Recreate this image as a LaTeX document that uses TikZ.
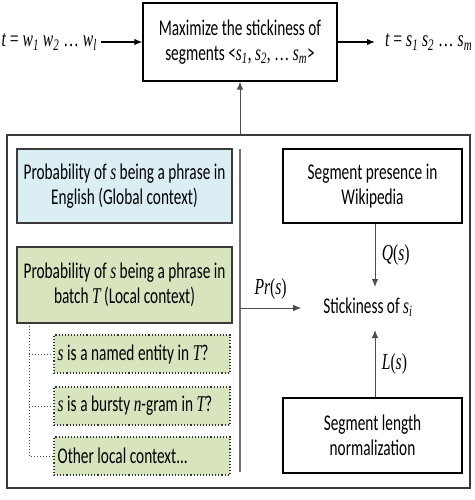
\documentclass[tikz,border=0pt]{standalone}
\usepackage{fontspec}
\setmainfont[FakeStretch=0.68]{Carlito}
\newfontfamily\mserif[FakeStretch=0.68]{Liberation Serif}
\usetikzlibrary{arrows.meta}
\newcommand{\vv}[1]{{\mserif\itshape #1}}
\newcommand{\sbs}[1]{\textsubscript{\mserif\itshape #1}}
\newcommand{\tightsp}{\spaceskip=3.6pt plus 1pt minus 1pt\relax}
\definecolor{bluefill}{HTML}{DBEEF4}
\definecolor{greenfill}{HTML}{D7E4BD}
\definecolor{frame}{HTML}{3A3A3A}
\tikzset{
  txt/.style={font=\fontsize{22.5}{25}\selectfont, align=center},
  box/.style={draw=black, line width=1.2pt, txt, inner sep=0pt},
  ctxbox/.style={draw=frame, line width=1.4pt, txt, inner sep=0pt},
  dotbox/.style={draw=black!80, dotted, line width=1.1pt, fill=greenfill, inner sep=0pt, minimum width=176pt, minimum height=38pt},
  dottxt/.style={font=\fontsize{22.5}{25}\selectfont, inner sep=0pt, anchor=west},
  arr/.style={-{Latex[length=8pt,width=6.5pt]}, line width=1.4pt},
  garr/.style={-{Latex[length=8pt,width=6.5pt]}, line width=1pt, draw=black!70},
  dline/.style={dotted, line width=1pt, draw=black!70},
  mlab/.style={font=\fontsize{23}{25}\selectfont\mserif\itshape},
}
\begin{document}
\begin{tikzpicture}[x=1pt,y=-1pt]
\useasboundingbox (0,0) rectangle (474,500);
% top row
\node[box, minimum width=194pt, minimum height=78pt] (top) at (240,42)
  {Maximize the stickiness of\\segments <\vv{s}\sbs{1}{\mserif,} \vv{s}\sbs{2}{\mserif,} {\mserif\ldots} \vv{s}\sbs{m}>};
\node[anchor=east, mlab, inner sep=0pt] (tin) at (97,42)
  {t \upshape= \itshape w\textsubscript{1} w\textsubscript{2} \upshape\ldots\ \itshape w\textsubscript{l}};
\node[anchor=west, mlab, inner sep=0pt] (tout) at (385,42)
  {t \upshape= \itshape s\textsubscript{1} s\textsubscript{2} \upshape\ldots\ \itshape s\textsubscript{m}};
\draw[arr] (tin.east) ++(4pt,0) coordinate (tinr) (tinr) -- (top.west);
\draw[arr] (top.east) -- ([xshift=-10pt]tout.west);
% outer frame
\draw[frame, line width=1.6pt] (7,135) rectangle (470,488);
\coordinate (ftop) at (240,135);
\draw[garr] (ftop) -- (top.south);
% divider
\coordinate (dvt) at (240,149);
\coordinate (dvb) at (240,472);
\draw[black!55, line width=1.2pt] (dvt) -- (dvb);
% left side
\node[ctxbox, fill=bluefill, minimum width=215pt, minimum height=74pt] (glob) at (124.5,186)
  {Probability of \vv{s} being a phrase in\\English (Global context)};
\node[ctxbox, fill=greenfill, minimum width=215pt, minimum height=76pt] (loc) at (124.5,285)
  {Probability of \vv{s} being a phrase in\\batch \vv{T} (Local context)};
\node[dotbox] (ne) at (142,354) {};
\node[dotbox] (bu) at (142,406) {};
\node[dotbox] (ot) at (142,456) {};
\node[dottxt] (net) at ([xshift=4pt]ne.west) {\tightsp\vv{s} is a named entity in \vv{T}?};
\node[dottxt] (but) at ([xshift=4pt]bu.west) {\tightsp\vv{s} is a bursty \vv{n}-gram in \vv{T}?};
\node[dottxt] (ott) at ([xshift=4pt]ot.west) {\tightsp Other local context...};
\coordinate (dtop) at (29,323);
\coordinate (dbot) at (29,456);
\draw[dline] (dtop) -- (dbot) -- (ot.west);
\draw[dline] (dtop |- ne.west) -- (ne.west);
\draw[dline] (dtop |- bu.west) -- (bu.west);
% right side
\node[box, minimum width=179pt, minimum height=74pt] (wiki) at (372.5,186)
  {Segment presence in\\Wikipedia};
\node[box, minimum width=179pt, minimum height=75pt] (len) at (372.5,435.5)
  {Segment length\\normalization};
\node[txt, inner sep=0pt] (stick) at (368,307) {Stickiness of \vv{s}\sbs{i}};
\coordinate (prs) at (240,308);
\draw[garr] (prs) -- ([xshift=-22pt]stick.west |- prs) node[midway, above=5pt, mlab] {Pr\upshape(\itshape s\upshape)};
\draw[garr] (wiki.south -| 375,0) -- (375,287) node[midway, right=3pt, mlab] {Q\upshape(\itshape s\upshape)};
\draw[garr] (len.north -| 375,0) -- (375,330) node[midway, right=3pt, mlab] {L\upshape(\itshape s\upshape)};
\end{tikzpicture}
\end{document}
